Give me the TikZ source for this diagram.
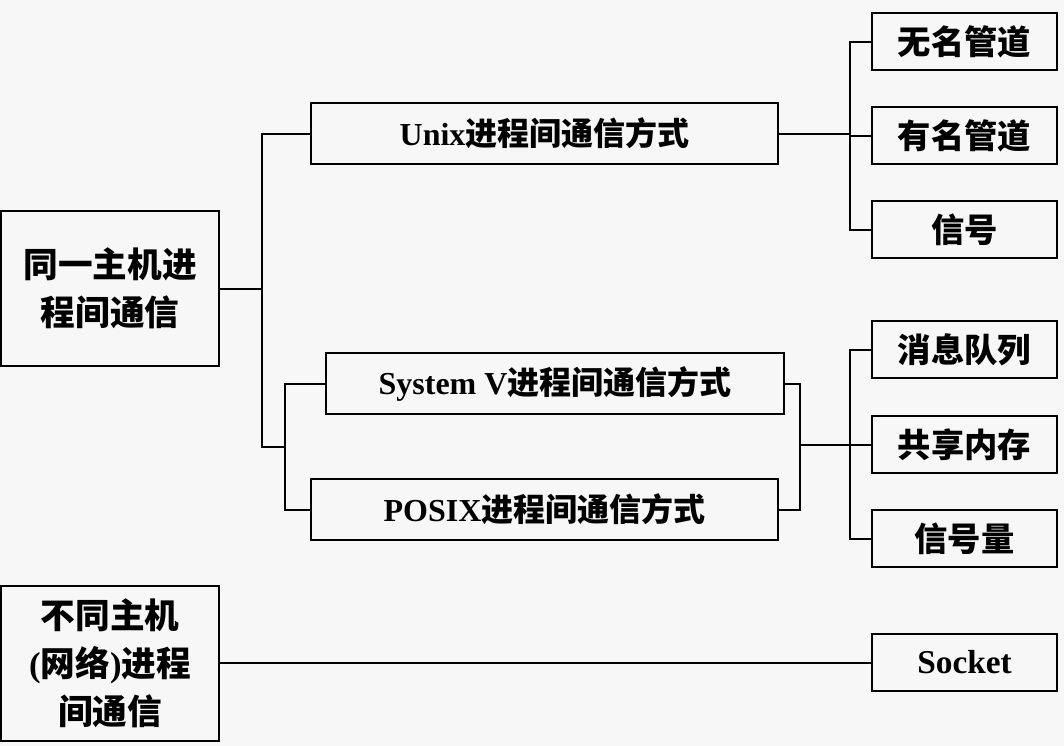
\documentclass[tikz,border=0pt]{standalone}
\usepackage{fontspec}
\usetikzlibrary{calc}
\setmainfont{Liberation Serif}
\newfontfamily\cjk{Noto Sans CJK SC}
\newcommand{\zh}[1]{{\cjk\bfseries #1}}
\begin{document}
\begin{tikzpicture}[x=0.75pt,y=-0.75pt,
  bx/.style={draw,line width=1.6pt,inner sep=0pt,anchor=north west,align=center,font=\fontsize{24}{30}\selectfont\bfseries},
  ln/.style={line width=1.6pt}]
\useasboundingbox[fill=gray!6] (0,0) rectangle (1064,746);
\node[bx,minimum width=218*0.75pt,minimum height=155*0.75pt,font=\fontsize{26}{36}\selectfont\bfseries] (h1) at (0,210) {\zh{同一主机进}\\\zh{程间通信}};
\node[bx,minimum width=218*0.75pt,minimum height=155*0.75pt,font=\fontsize{26}{36}\selectfont\bfseries] (h2) at (0,585) {\zh{不同主机}\\(\zh{网络})\zh{进程}\\\zh{间通信}};
\node[bx,minimum width=467*0.75pt,minimum height=61*0.75pt] (unix) at (310,102) {Unix\zh{进程间通信方式}};
\node[bx,minimum width=458*0.75pt,minimum height=61*0.75pt] (sysv) at (325,352) {System V\zh{进程间通信方式}};
\node[bx,minimum width=467*0.75pt,minimum height=61*0.75pt] (posix) at (310,478) {POSIX\zh{进程间通信方式}};
\foreach \n/\t/\y in {a/无名管道/12,b/有名管道/106,c/信号/200,d/消息队列/320,e/共享内存/415,f/信号量/509}
  \node[bx,minimum width=185*0.75pt,minimum height=57*0.75pt,font=\fontsize{25}{30}\selectfont\bfseries] (\n) at (871,\y) {\zh{\t}};
\node[bx,minimum width=185*0.75pt,minimum height=57*0.75pt,font=\fontsize{25}{30}\selectfont\bfseries] (sock) at (871,633) {Socket};
% left tree
\coordinate (lx) at (262,0);
\coordinate (px) at (285,0);
\coordinate (jl) at (lx |- h1.east);
\draw[ln] (h1.east) -- (jl);
\coordinate (mid) at ($ (sysv.west)!0.5!(posix.west) $);
\draw[ln] (unix.west) -| (lx |- mid) -- (px |- mid);
\draw[ln] (sysv.west) -| (px |- posix.west) -- (posix.west);
% right: unix
\coordinate (rx) at (850,0);
\draw[ln] (unix.east) -- (rx |- unix.east);
\draw[ln] (a.west) -| (rx |- c.west) -- (c.west);
\draw[ln] (b.west) -- (rx |- b.west);
% right: sysv/posix
\coordinate (qx) at (800,0);
\draw[ln] (sysv.east) -| (qx |- posix.east) -- (posix.east);
\draw[ln] (qx |- e.west) -- (rx |- e.west);
\draw[ln] (d.west) -| (rx |- f.west) -- (f.west);
\draw[ln] (e.west) -- (rx |- e.west);
% socket
\draw[ln] (h2.east |- sock.west) -- (sock.west);
\end{tikzpicture}
\end{document}
